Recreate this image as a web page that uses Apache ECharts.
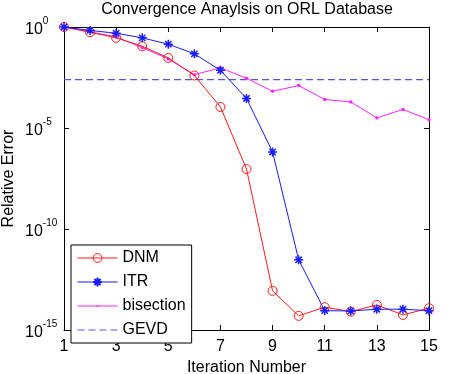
<!DOCTYPE html>
<html>
<head>
<meta charset="utf-8">
<script src="https://cdn.jsdelivr.net/npm/echarts@6/dist/echarts.min.js"></script>
<style>
html,body{margin:0;padding:0;background:#fff;}
#chart{width:474px;height:374px;}
</style>
</head>
<body>
<div id="chart"></div>
<script>
const iterations = [1,2,3,4,5,6,7,8,9,10,11,12,13,14,15];
const dnm = [1, 0.55, 0.29, 0.112, 0.0295, 0.0040, 1.1e-4, 9.3e-8, 8.7e-14, 5.0e-15, 1.35e-14, 8.1e-15, 1.74e-14, 5.6e-15, 1.2e-14];
const itr = [1, 0.68, 0.49, 0.29, 0.141, 0.047, 0.0072, 2.9e-4, 6.5e-7, 3.0e-12, 9.1e-15, 8.7e-15, 1.07e-14, 1.07e-14, 9.1e-15];
const bisection = [1, 0.575, 0.324, 0.0955, 0.0263, 0.00437, 0.00955, 0.00288, 6.6e-4, 1.26e-3, 2.57e-4, 1.95e-4, 3.16e-5, 8.3e-5, 2.57e-5];
const gevd = [2.5e-3, 2.5e-3, 2.5e-3, 2.5e-3, 2.5e-3, 2.5e-3, 2.5e-3, 2.5e-3, 2.5e-3, 2.5e-3, 2.5e-3, 2.5e-3, 2.5e-3, 2.5e-3, 2.5e-3];
const seriesNames = ['DNM', 'ITR', 'bisection', 'GEVD'];
const xTicks = [1,3,5,7,9,11,13,15];

const pairs = arr => iterations.map((x, i) => [x, arr[i]]);
const FONT = 'Liberation Sans, Arial, Helvetica, sans-serif';
const FS = 16;
const RED = '#ff1a1a';
const asterisk = 'path://M0,-10L0,10M-10,0L10,0M-7,-7L7,7M-7,7L7,-7';
const ring = 'path://M-10,0A10,10,0,1,1,10,0A10,10,0,1,1,-10,0Z';
// small dot inside a larger (invisible) bounding box
const dot = 'path://M-10,-10M10,10M-2,0A2,2,0,1,1,2,0A2,2,0,1,1,-2,0Z';

const chart = echarts.init(document.getElementById('chart'), null, {renderer: 'canvas'});
const yLabel = v => {
  const e = Math.round(Math.log10(v));
  return '{b|10}{s|' + e + '}';
};
const axisLineStyle = {color: '#000', width: 1};
chart.setOption({
  animation: false,
  backgroundColor: '#fff',
  textStyle: {fontFamily: FONT},
  title: {
    text: 'Convergence Anaylsis on ORL Database',
    left: 247, textAlign: 'center', top: 2, padding: 0,
    textStyle: {fontSize: FS, fontWeight: 'normal', color: '#000', fontFamily: FONT}
  },
  grid: {left: 64, right: 45, top: 27, bottom: 44, containLabel: false, outerBoundsMode: 'none'},
  xAxis: [{
    type: 'value', min: 1, max: 15, interval: 2, position: 'bottom',
    name: 'Iteration Number', nameLocation: 'middle', nameGap: 25,
    nameTextStyle: {fontSize: FS, color: '#000', fontFamily: FONT},
    axisLine: {show: true, lineStyle: axisLineStyle},
    axisTick: {show: true, inside: true, length: 5, lineStyle: axisLineStyle},
    axisLabel: {show: true, fontSize: FS, color: '#000', margin: 9, fontFamily: FONT,
      formatter: v => xTicks.indexOf(v) >= 0 ? String(v) : ''},
    splitLine: {show: false}
  }, {
    type: 'value', min: 1, max: 15, interval: 2, position: 'top',
    axisLine: {show: true, lineStyle: axisLineStyle},
    axisTick: {show: true, inside: true, length: 5, lineStyle: axisLineStyle},
    axisLabel: {show: false}, splitLine: {show: false}
  }],
  yAxis: [{
    type: 'log', logBase: 10, min: 1e-15, max: 1, interval: 5, position: 'left',
    name: 'Relative Error', nameLocation: 'middle', nameGap: 47, nameMoveOverlap: false,
    nameTextStyle: {fontSize: FS, color: '#000', fontFamily: FONT},
    axisLine: {show: true, lineStyle: axisLineStyle},
    axisTick: {show: true, inside: true, length: 5, lineStyle: axisLineStyle},
    minorTick: {show: false},
    axisLabel: {
      show: true, margin: 39, align: 'left', color: '#000', formatter: yLabel,
      rich: {
        b: {fontSize: FS, verticalAlign: 'bottom', color: '#000', fontFamily: FONT},
        s: {fontSize: 10, verticalAlign: 'top', padding: [0, 0, 11, 0], color: '#000', fontFamily: FONT}
      }
    },
    splitLine: {show: false}
  }, {
    type: 'log', logBase: 10, min: 1e-15, max: 1, interval: 5, position: 'right',
    axisLine: {show: true, lineStyle: axisLineStyle},
    axisTick: {show: true, inside: true, length: 5, lineStyle: axisLineStyle},
    axisLabel: {show: false}, splitLine: {show: false}
  }],
  legend: {
    orient: 'vertical', left: 71, top: 245,
    data: [
      {name: seriesNames[0], itemStyle: {color: 'rgba(255,255,255,0)', borderColor: RED, borderWidth: 1}},
      {name: seriesNames[1]},
      {name: seriesNames[2]},
      {name: seriesNames[3], itemStyle: {opacity: 0}}
    ],
    backgroundColor: '#fff', borderColor: '#000', borderWidth: 1,
    padding: [5, 6, 5, 6], itemWidth: 40, itemHeight: 11, itemGap: 8, itemTextGap: 5,
    lineStyle: {width: 1},
    textStyle: {fontSize: FS, color: '#000', fontFamily: FONT}
  },
  series: [{
    name: seriesNames[0], type: 'line', data: pairs(dnm),
    symbol: ring, symbolSize: 9, showAllSymbol: true,
    lineStyle: {color: RED, width: 1},
    itemStyle: {color: 'rgba(255,255,255,0)', borderColor: RED, borderWidth: 1},
    z: 4
  }, {
    name: seriesNames[1], type: 'line', data: pairs(itr),
    symbol: asterisk, symbolSize: 9, showAllSymbol: true,
    lineStyle: {color: '#1a1aff', width: 1},
    itemStyle: {color: '#1a1aff', borderColor: '#1a1aff', borderWidth: 1.5},
    z: 5
  }, {
    name: seriesNames[2], type: 'line', data: pairs(bisection),
    symbol: dot, symbolSize: 17, showAllSymbol: true,
    lineStyle: {color: '#ff22ff', width: 1},
    itemStyle: {color: '#ff22ff'},
    z: 3
  }, {
    name: seriesNames[3], type: 'line', data: pairs(gevd),
    symbol: 'none',
    lineStyle: {color: '#5454dc', width: 1.2, type: [7, 4]},
    itemStyle: {color: '#5454dc'},
    z: 2
  }]
});
</script>
</body>
</html>
